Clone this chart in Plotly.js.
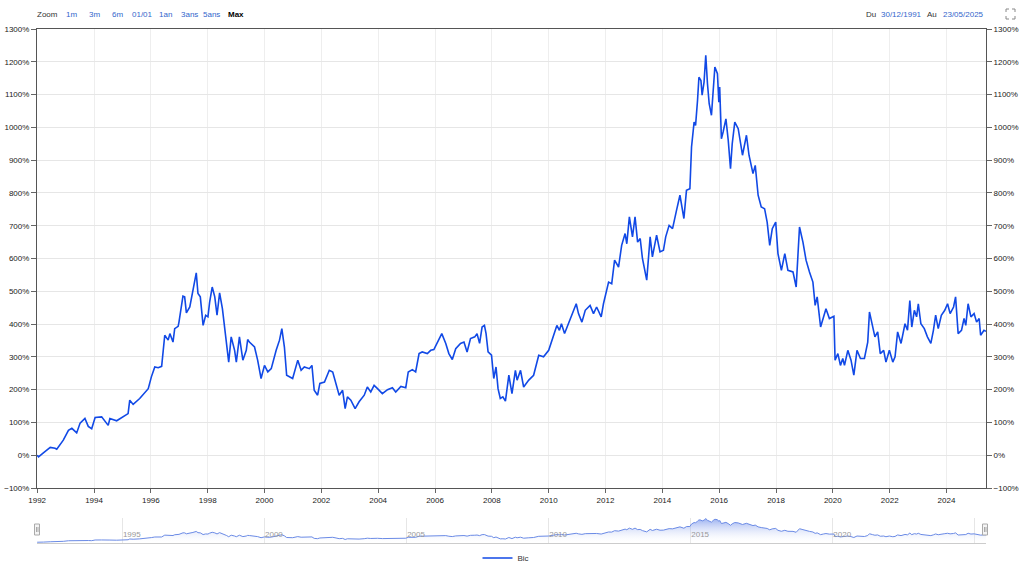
<!DOCTYPE html>
<html>
<head>
<meta charset="utf-8">
<script src="https://cdn.plot.ly/plotly-3.0.1.min.js"></script>
<style>
  html, body { margin: 0; padding: 0; background: #ffffff; }
  #chart { width: 1024px; height: 576px; }
</style>
</head>
<body>
<div id="chart"></div>
<script>
// ---- Data (decimal years, performance in %) ----
const seriesName = "Bic";
const decimalYears = [
  1992.00,1992.05,1992.22,1992.46,1992.63,1992.69,1992.92,1993.10,1993.22,1993.39,
  1993.51,1993.68,1993.80,1993.92,1994.04,1994.27,1994.50,1994.56,1994.80,1995.03,
  1995.20,1995.26,1995.38,1995.61,1995.79,1995.91,1996.02,1996.14,1996.26,1996.38,
  1996.49,1996.61,1996.67,1996.78,1996.84,1996.96,1996.99,1997.13,1997.19,1997.25,
  1997.37,1997.48,1997.60,1997.66,1997.74,1997.84,1997.93,1998.01,1998.07,1998.16,
  1998.25,1998.33,1998.42,1998.52,1998.66,1998.74,1998.83,1998.95,1999.01,1999.12,
  1999.24,1999.36,1999.41,1999.47,1999.65,1999.76,1999.88,2000.00,2000.12,2000.24,
  2000.41,2000.53,2000.61,2000.70,2000.78,2000.99,2001.17,2001.29,2001.40,2001.58,
  2001.67,2001.75,2001.87,2001.95,2002.11,2002.28,2002.40,2002.52,2002.63,2002.75,
  2002.84,2002.92,2003.04,2003.19,2003.33,2003.51,2003.62,2003.74,2003.86,2003.98,
  2004.15,2004.33,2004.50,2004.62,2004.80,2004.97,2005.06,2005.20,2005.32,2005.44,
  2005.55,2005.73,2005.85,2005.96,2006.08,2006.24,2006.38,2006.49,2006.61,2006.73,
  2006.90,2007.02,2007.13,2007.25,2007.40,2007.48,2007.57,2007.66,2007.74,2007.80,
  2007.87,2007.99,2008.07,2008.15,2008.22,2008.30,2008.39,2008.48,2008.60,2008.71,
  2008.83,2008.89,2009.01,2009.12,2009.30,2009.47,2009.65,2009.82,2010.00,2010.18,
  2010.29,2010.38,2010.45,2010.56,2010.70,2010.82,2010.97,2011.05,2011.17,2011.29,
  2011.46,2011.58,2011.69,2011.85,2011.93,2012.11,2012.22,2012.32,2012.46,2012.57,
  2012.69,2012.75,2012.84,2012.95,2013.04,2013.13,2013.22,2013.30,2013.45,2013.57,
  2013.65,2013.80,2013.92,2014.04,2014.12,2014.24,2014.36,2014.50,2014.62,2014.76,
  2014.85,2014.97,2015.03,2015.12,2015.17,2015.24,2015.29,2015.36,2015.40,2015.47,
  2015.53,2015.59,2015.65,2015.73,2015.79,2015.85,2015.94,2015.99,2016.02,2016.08,
  2016.14,2016.24,2016.32,2016.40,2016.46,2016.55,2016.67,2016.82,2016.96,2017.05,
  2017.19,2017.27,2017.37,2017.48,2017.60,2017.69,2017.78,2017.87,2017.99,2018.07,
  2018.19,2018.31,2018.42,2018.60,2018.71,2018.83,2018.95,2019.06,2019.18,2019.30,
  2019.38,2019.45,2019.57,2019.68,2019.76,2019.88,2020.04,2020.08,2020.18,2020.27,
  2020.35,2020.41,2020.53,2020.64,2020.74,2020.85,2020.97,2021.11,2021.23,2021.29,
  2021.40,2021.48,2021.58,2021.67,2021.79,2021.87,2021.99,2022.11,2022.19,2022.28,
  2022.40,2022.54,2022.63,2022.71,2022.78,2022.87,2022.95,2023.01,2023.10,2023.22,
  2023.33,2023.45,2023.54,2023.62,2023.71,2023.82,2023.94,2024.04,2024.13,2024.25,
  2024.32,2024.41,2024.53,2024.62,2024.68,2024.76,2024.86,2024.97,2025.06,2025.15,
  2025.20,2025.32,2025.39
];
const bicPerf = [
  0,-5,7,24,21,18,46,76,82,68,
  98,112,88,81,115,117,91,112,105,117,
  127,168,155,173,193,203,239,269,267,271,
  366,351,371,345,386,393,406,485,483,434,
  452,505,556,493,483,396,427,422,467,513,
  483,427,495,447,351,284,361,320,284,361,
  290,320,353,345,330,290,234,274,254,264,
  320,351,386,330,244,234,290,259,269,264,
  274,198,183,219,223,259,254,219,183,198,
  142,178,168,142,163,183,208,193,213,203,
  188,200,206,193,210,206,254,261,254,310,
  315,310,320,322,345,371,341,310,292,325,
  341,345,315,356,361,371,341,391,396,371,
  315,305,234,269,203,173,178,165,244,188,
  259,229,259,208,229,244,305,300,320,366,
  396,381,401,371,401,432,462,432,406,442,
  457,432,452,422,462,528,523,595,574,640,
  676,645,727,666,727,650,661,600,534,666,
  605,671,620,625,666,701,691,747,793,722,
  808,813,940,1016,1006,1082,1153,1143,1098,1138,
  1220,1133,1072,1037,1123,1184,1164,1077,1123,965,
  986,1026,960,874,950,1016,996,915,976,915,
  859,884,793,757,752,711,640,691,711,615,
  564,615,564,559,513,696,650,595,559,528,
  457,483,391,427,447,417,424,290,310,274,
  295,274,320,290,244,320,295,295,345,437,
  391,361,376,310,320,284,320,284,300,376,
  341,401,381,472,391,442,422,462,401,386,
  361,341,381,427,386,427,442,462,432,452,
  483,371,381,417,396,462,422,432,406,417,
  366,381,378
];
const xTickYears = [1992,1994,1996,1998,2000,2002,2004,2006,2008,2010,2012,2014,2016,2018,2020,2022,2024];
const navTickYears = [1995,2000,2005,2010,2015,2020,2025];
const startDate = "1991-12-30";
const endDate = "2025-05-23";
const zoomButtons = ["1m","3m","6m","01/01","1an","3ans","5ans"];

// ---- helpers ----
function toDate(y) {
  const yr = Math.floor(y), frac = y - yr;
  const s = Date.UTC(yr, 0, 1), e = Date.UTC(yr + 1, 0, 1);
  return new Date(s + frac * (e - s)).toISOString().slice(0, 10);
}
const W = 1024, H = 576;
const px = x => x / W;
const py = y => 1 - y / H;

const dates = decimalYears.map(toDate);
const FONT = "Liberation Sans, Arial, sans-serif";
const LINE_BLUE = "#1149e6";

const traces = [
  {
    x: dates, y: bicPerf, type: "scatter", mode: "lines", name: seriesName,
    line: { color: LINE_BLUE, width: 1.6 }, xaxis: "x", yaxis: "y",
    hovertemplate: "%{x}<br>%{y}%<extra></extra>"
  },
  {
    x: dates, y: bicPerf, type: "scatter", mode: "lines", showlegend: false,
    line: { color: "rgba(0,0,0,0)", width: 0 }, xaxis: "x", yaxis: "y3",
    hoverinfo: "skip"
  },
  {
    x: dates, y: bicPerf, type: "scatter", mode: "lines", showlegend: false,
    line: { color: "#6b8be6", width: 1 }, fill: "tozeroy",
    fillgradient: { type: "vertical", colorscale: [[0, "rgba(255,255,255,0.1)"], [1, "rgba(90,125,230,0.6)"]] },
    xaxis: "x2", yaxis: "y2", hoverinfo: "skip"
  }
];

const annotations = [];
const zx = [65, 88, 111, 131, 158, 180, 202];
const addText = (text, x, color) => annotations.push({ text: text, x: px(x), y: py(14), xref: "paper", yref: "paper", xanchor: "left", yanchor: "middle", showarrow: false, borderpad: 0, font: { family: FONT, size: 8, color: color } });
addText("Zoom", 36, "#333");
zoomButtons.forEach((b, i) => addText(b, zx[i], "#3366cc"));
addText("<b>Max</b>", 227, "#000");
addText("Du", 865, "#333");
addText("30/12/1991", 880, "#3366cc");
addText("Au", 926, "#333");
addText("23/05/2025", 942, "#3366cc");

// fullscreen icon + navigator handles (decoration)
const ic = { l: 1006, r: 1015, t: 9, b: 19, a: 3 };
const iconPaths = [
  `M ${px(ic.l)} ${py(ic.t + ic.a)} L ${px(ic.l)} ${py(ic.t)} L ${px(ic.l + ic.a)} ${py(ic.t)}`,
  `M ${px(ic.r - ic.a)} ${py(ic.t)} L ${px(ic.r)} ${py(ic.t)} L ${px(ic.r)} ${py(ic.t + ic.a)}`,
  `M ${px(ic.l)} ${py(ic.b - ic.a)} L ${px(ic.l)} ${py(ic.b)} L ${px(ic.l + ic.a)} ${py(ic.b)}`,
  `M ${px(ic.r - ic.a)} ${py(ic.b)} L ${px(ic.r)} ${py(ic.b)} L ${px(ic.r)} ${py(ic.b - ic.a)}`
];
const shapes = iconPaths.map(p => ({ type: "path", path: p, xref: "paper", yref: "paper", line: { color: "#888", width: 1 } }));
[37, 985].forEach(hx => {
  shapes.push({ type: "rect", xref: "paper", yref: "paper", x0: px(hx - 2.5), x1: px(hx + 2.5), y0: py(535), y1: py(524), fillcolor: "#f4f4f4", line: { color: "#aaa", width: 1 } });
  shapes.push({ type: "line", xref: "paper", yref: "paper", x0: px(hx - 0.5), x1: px(hx - 0.5), y0: py(532), y1: py(527), line: { color: "#aaa", width: 1 } });
  shapes.push({ type: "line", xref: "paper", yref: "paper", x0: px(hx + 1), x1: px(hx + 1), y0: py(532), y1: py(527), line: { color: "#aaa", width: 1 } });
});

const xDomain = [px(37), px(986)];
const layout = {
  width: W, height: H,
  margin: { l: 0, r: 0, t: 0, b: 0, pad: 0 },
  paper_bgcolor: "#ffffff", plot_bgcolor: "#ffffff",
  font: { family: FONT, size: 8, color: "#333" },
  showlegend: true,
  legend: { orientation: "h", x: 0.5 - 6 / W, xanchor: "center", y: py(558), yanchor: "middle", font: { family: FONT, size: 8, color: "#333" }, bgcolor: "rgba(0,0,0,0)" },
  xaxis: {
    type: "date", domain: xDomain, anchor: "y", range: [startDate, endDate],
    tickvals: xTickYears.map(y => y + "-01-01"), ticktext: xTickYears.map(String),
    ticks: "outside", ticklen: 4, tickcolor: "#666", showline: true, linecolor: "#555", linewidth: 1, mirror: true,
    showgrid: true, gridcolor: "#eeeeee", gridwidth: 1, zeroline: false,
    tickfont: { family: FONT, size: 8, color: "#222" }, fixedrange: true
  },
  yaxis: {
    domain: [py(488), py(29)], anchor: "x", range: [-100, 1300], dtick: 100, tick0: 0, ticksuffix: "%",
    ticks: "outside", ticklen: 5, tickcolor: "#666", showline: true, linecolor: "#555", linewidth: 1,
    showgrid: true, gridcolor: "#e6e6e6", zeroline: false,
    tickfont: { family: FONT, size: 8, color: "#222" }, fixedrange: true
  },
  yaxis3: {
    overlaying: "y", side: "right", anchor: "x", range: [-100, 1300], dtick: 100, tick0: 0, ticksuffix: "%",
    ticks: "outside", ticklen: 5, tickcolor: "#666", showline: true, linecolor: "#555", linewidth: 1,
    showgrid: false, zeroline: false, tickfont: { family: FONT, size: 8, color: "#222" }, fixedrange: true
  },
  xaxis2: {
    type: "date", domain: xDomain, anchor: "y2", range: [startDate, endDate],
    tickvals: navTickYears.map(y => y + "-01-01"), ticktext: navTickYears.map(String),
    ticklabelposition: "inside right", ticks: "", showline: true, linecolor: "#cccccc", linewidth: 1,
    showgrid: true, gridcolor: "#e6e6e6", zeroline: false,
    tickfont: { family: FONT, size: 8, color: "#999" }, fixedrange: true
  },
  yaxis2: {
    domain: [py(543), py(518)], anchor: "x2", range: [-40, 1250],
    showticklabels: false, showgrid: false, zeroline: false, showline: false, ticks: "", fixedrange: true
  },
  annotations: annotations,
  shapes: shapes
};

Plotly.newPlot("chart", traces, layout, { displayModeBar: false, staticPlot: false, responsive: false });
</script>
</body>
</html>
